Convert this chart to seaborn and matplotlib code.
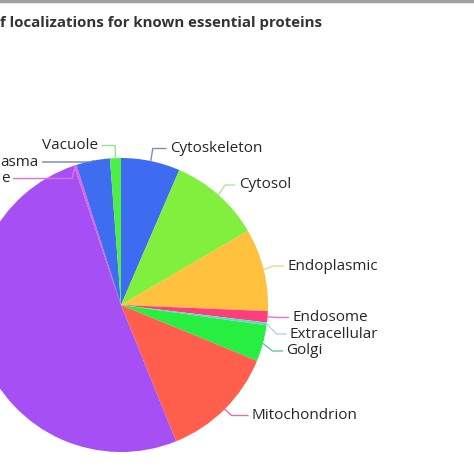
import matplotlib
matplotlib.use("Agg")
import matplotlib.pyplot as plt
import seaborn as sns
import numpy as np

categories = ["Cytoskeleton", "Cytosol", "Endoplasmic", "Endosome", "Extracellular",
              "Golgi", "Mitochondrion", "Nucleus", "Peroxisome", "Plasma", "Vacuole"]
values = [6.5, 10.1, 9.1, 1.25, 0.3, 4.0, 12.7, 51.0, 0.3, 3.7, 1.2]
# visible label text (the left labels are cropped in the reference)
display_labels = ["Cytoskeleton", "Cytosol", "Endoplasmic", "Endosome", "Extracellular",
                  "Golgi", "Mitochondrion", "", "e", "asma", "Vacuole"]
title_text = "f localizations for known essential proteins"

colors = ["#3d6cf2", "#80ef3e", "#ffc13e", "#ff3f7c", "#5fd8d8", "#27ef42",
          "#ff5f4c", "#a64ff5", "#e35ee8", "#3f6df0", "#4def45"]
line_colors = ["#7f8fb5", "#b3e698", "#f5d394", "#f26cc4", "#a6dbe2", "#6cc2a4",
               "#f06da2", "#b07ee0", "#e070e0", "#6a85b5", "#98e392"]

# label placement (style): x, y in pixels from top-left, alignment
label_pos = {
    "Cytoskeleton": (170, 148.5, "left"),
    "Cytosol": (239, 185, "left"),
    "Endoplasmic": (288, 266, "left"),
    "Endosome": (292.5, 317.5, "left"),
    "Extracellular": (290, 334, "left"),
    "Golgi": (286.5, 351, "left"),
    "Mitochondrion": (252, 415.5, "left"),
    "Peroxisome": (9.5, 178.5, "right"),
    "Plasma": (38.5, 162, "right"),
    "Vacuole": (98, 145.5, "right"),
}

sns.set_theme(style="white")
plt.rcParams['font.family'] = ['Open Sans', 'DejaVu Sans']

W = H = 474
fig = plt.figure(figsize=(4.74, 4.74), dpi=100)
fig.patch.set_facecolor("white")
ax = fig.add_axes([0, 0, 1, 1])

cx, cy, R = 121, 305, 147
wedges, _ = ax.pie(values, colors=colors, center=(cx, cy), radius=R,
                   startangle=270, counterclock=True,
                   wedgeprops=dict(linewidth=0, edgecolor="none"))

ax.set_xlim(0, W)
ax.set_ylim(H, 0)
ax.set_aspect("equal", adjustable="box")
ax.axis("off")

len1 = 10
for w, cat, lab, lc in zip(wedges, categories, display_labels, line_colors):
    if cat not in label_pos:
        continue
    tx, ty, ha = label_pos[cat]
    mid = np.deg2rad((w.theta1 + w.theta2) / 2)
    dx, dy = np.cos(mid), np.sin(mid)
    ex, ey = cx + R * dx, cy + R * dy
    p1x = ex + len1 * dx
    gap = 4
    p2x = tx - gap if ha == "left" else tx + gap
    ax.plot([ex, p1x, p2x], [ey, ty, ty], color=lc, lw=1, zorder=3,
            solid_joinstyle="miter")
    ax.text(tx, ty, lab, ha=ha, va="center", fontsize=11, color="#262626",
            zorder=4)

ax.text(0.5, 22.5, title_text, ha="left", va="center", fontsize=10.8,
        fontweight="bold", color="#333333")
ax.plot([0, W], [1, 1], color="#a0a0a0", lw=2.5, zorder=5, clip_on=False)

fig.savefig("out.png", dpi=100, facecolor="white")
